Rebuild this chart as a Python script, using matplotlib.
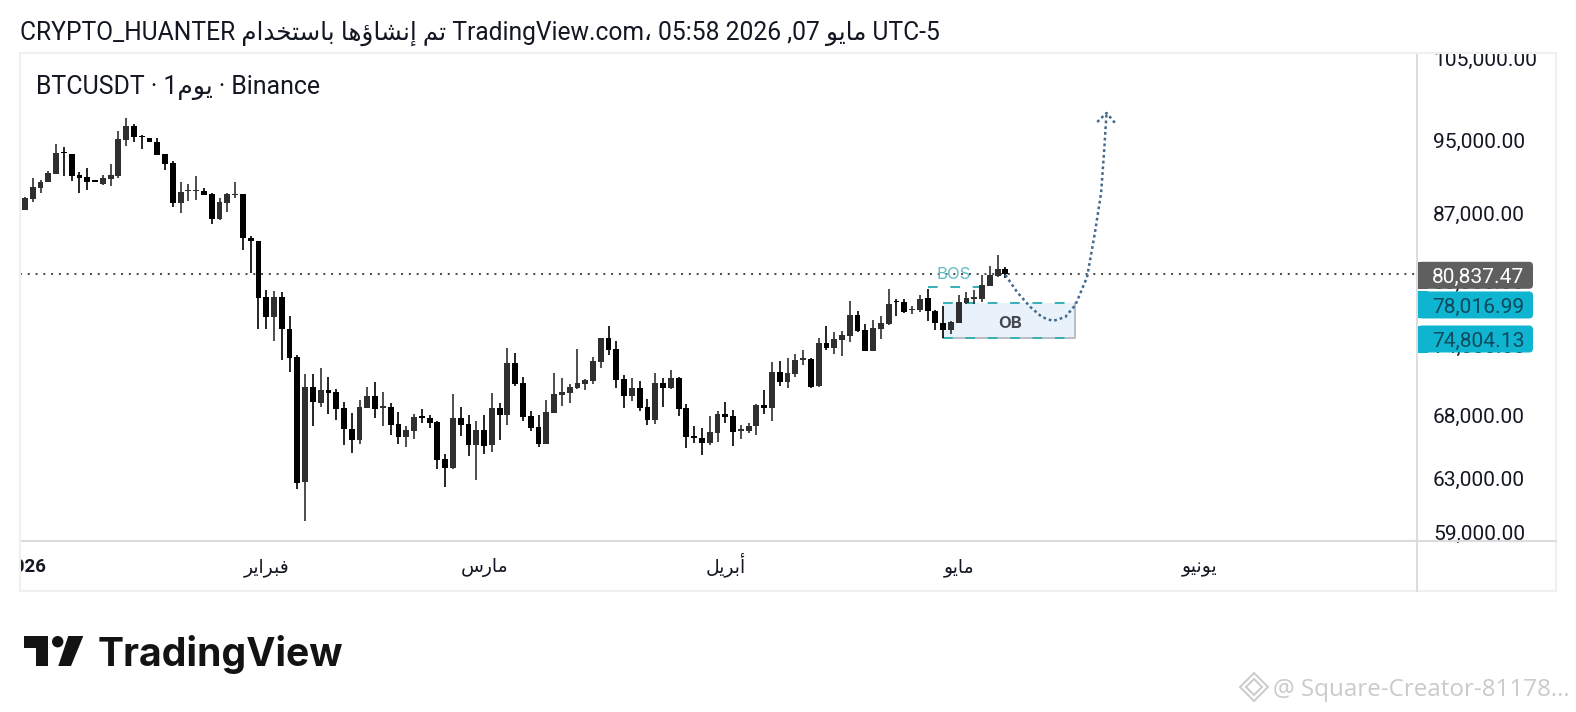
import matplotlib
matplotlib.use("Agg")
import matplotlib.pyplot as plt
from matplotlib.patches import Rectangle, FancyBboxPatch, Polygon, Circle
from matplotlib.lines import Line2D
from matplotlib.ticker import NullLocator, NullFormatter
from matplotlib.transforms import Affine2D, Bbox

# ---------- data (daily candles, day 0 = 1 Jan 2026) ----------
opens = [87420,88600,89760,90490,91340,93820,93590,91200,90970,90640,
 90200,90820,91120,95200,96840,95660,95400,95000,93550,92530,
 88200,89430,89430,89430,89110,86440,88200,89030,89110,84500,
 84150,78610,76770,78610,75600,73120,62780,70470,69140,70220,
 70050,68700,66940,66070,68670,69710,68720,68780,67340,66310,
 66820,68030,67860,67530,64560,63860,67860,67370,65670,66880,
 65670,68700,68110,72560,70820,68030,67120,65750,68280,69820,
 69960,70390,70760,70990,72680,74800,73810,71160,69710,70390,
 68780,67720,70820,70360,71280,68700,66420,66230,65810,66640,
 68200,68030,66820,66800,67180,68950,68700,71750,70900,71600,
 72830,72950,70560,74350,73900,74620,74990,76930,75540,73630,
 75630,76090,78280,78160,77400,77400,78510,77300,76210,75540,
 76210,78030,78440,78410,79730,80670,81330]
highs = [88790,90860,90670,91670,94700,94360,93600,91530,91970,90640,
 91200,92420,96280,97740,97040,95820,95470,95400,93560,92760,
 90420,90200,91120,89760,89220,88680,89280,90420,89180,84670,
 84160,79280,79180,79120,76830,73250,71600,71600,72100,71340,
 70330,69170,68300,69370,70450,70900,70020,69090,68360,67180,
 68200,68610,68110,67620,64950,69880,68780,68110,67620,68110,
 69960,69110,73900,73450,71340,68420,68110,69370,71690,71250,
 70710,73810,71160,73100,74810,75910,74530,71510,71250,70960,
 69430,71660,71220,71950,71310,69010,67200,67040,68030,68420,
 69200,68530,67290,67420,69030,70220,72650,72740,73010,73360,
 73720,73010,74780,75910,75350,75450,78250,77300,76090,76460,
 76840,79400,78440,78440,77780,78800,79400,77400,77780,76370,
 78830,79120,79310,80770,81660,82760,81530]
lows = [87420,88310,89280,90480,91340,91120,90560,89280,89580,90480,
 90120,90010,90930,94540,94970,94160,95000,93510,91780,87770,
 87070,88380,88490,89030,85940,86360,87210,88710,83270,80970,
 75630,75630,74560,72830,71750,62270,59890,67200,68800,68200,
 67700,65670,65060,65750,68670,67860,67200,66470,65750,65540,
 66170,67480,67070,63780,62420,63780,66390,64800,62930,64950,
 65110,66070,67290,70560,67620,66800,65510,65750,68280,68890,
 69110,70300,70220,70730,72150,73280,70390,68700,69280,68440,
 67290,67370,68780,70300,68030,65430,65830,64880,65670,65910,
 67450,65590,66150,66640,66470,68200,67620,70560,70390,71340,
 72390,70390,70500,73720,73360,73190,74440,75350,73630,73630,
 74710,76000,76830,77150,77020,77240,76370,75540,74810,75170,
 76210,77970,77970,78160,79700,80600,80480]
closes = [88680,89870,90490,91420,93670,93670,91120,90930,90490,90490,
 90860,91200,95280,96840,95510,95510,95000,93510,92490,88200,
 89330,89610,89610,89030,86500,88240,89110,89180,84470,84180,
 78540,76770,78610,75600,73030,62720,70470,69170,70220,69990,
 68640,66940,66070,68780,69710,68640,68840,67290,66310,66880,
 67950,67890,67450,64480,63860,67860,67290,65670,66880,65610,
 68700,68110,72560,70730,67950,67040,65750,68360,69880,70050,
 70470,70790,71080,72740,74800,73720,71100,69710,70390,68700,
 67700,70820,70390,71250,68610,66290,66230,65830,66720,68200,
 67950,66720,66960,67200,68950,68700,71770,70900,71690,72830,
 73010,70500,74350,73900,74710,75080,76930,75450,73630,75720,
 76180,78010,78160,77210,77520,78440,77280,76210,75540,76250,
 78130,78510,78640,79790,80770,81330,80837.47]

price_ticks = [105000, 95000, 87000, 80000, 74000, 68000, 63000, 59000]
month_days = [0, 31, 59, 90, 120, 151]
month_names = ['2026', 'فبراير', 'مارس', 'أبريل', 'مايو', 'يونيو']

ob_top, ob_bottom = 78016.99, 74804.13
ob_days = [118, 135]
bos_price = 79630
bos_days = [116, 122.7]
path_days = [126, 127.5, 129.2, 130.7, 132.1, 133.7, 135, 136.5, 137.5, 138.3, 138.7, 139]
path_prices = [80770, 79115, 77683, 76743, 76370, 76743, 77873, 80573, 85005, 89250, 94045, 98380]
head_days = [137.8, 139, 140.2]
head_prices = [97307, 98380, 97071]

# ---------- Arabic shaping (matplotlib does not shape or reorder) ----------
FORMS = {'ا':(0xFE8D,0xFE8E),'أ':(0xFE83,0xFE84),'إ':(0xFE87,0xFE88),'ؤ':(0xFE85,0xFE86),
 'د':(0xFEA9,0xFEAA),'ر':(0xFEAD,0xFEAE),'و':(0xFEED,0xFEEE),
 'ب':(0xFE8F,0xFE90,0xFE91,0xFE92),'ت':(0xFE95,0xFE96,0xFE97,0xFE98),
 'خ':(0xFEA5,0xFEA6,0xFEA7,0xFEA8),'س':(0xFEB1,0xFEB2,0xFEB3,0xFEB4),
 'ش':(0xFEB5,0xFEB6,0xFEB7,0xFEB8),'ف':(0xFED1,0xFED2,0xFED3,0xFED4),
 'ل':(0xFEDD,0xFEDE,0xFEDF,0xFEE0),'م':(0xFEE1,0xFEE2,0xFEE3,0xFEE4),
 'ن':(0xFEE5,0xFEE6,0xFEE7,0xFEE8),'ه':(0xFEE9,0xFEEA,0xFEEB,0xFEEC),
 'ي':(0xFEF1,0xFEF2,0xFEF3,0xFEF4)}

def ar(s):
    out = []
    for i, ch in enumerate(s):
        if ch not in FORMS:
            out.append(ch)
            continue
        prev = s[i-1] if i > 0 else ''
        nxt = s[i+1] if i+1 < len(s) else ''
        jp = prev in FORMS and len(FORMS[prev]) == 4
        jn = nxt in FORMS and len(FORMS[ch]) == 4
        idx = 3 if (jp and jn) else 1 if jp else 2 if jn else 0
        out.append(chr(FORMS[ch][idx]))
    return ''.join(reversed(out))

title_text = ("CRYPTO_HUANTER " + ar('تم إنشاؤها باستخدام') + " TradingView.com" + ar('،')
              + " 05:58 2026 ,07 " + ar('مايو') + " UTC-5")
legend_text = "BTCUSDT · 1" + ar('يوم') + " · Binance"

# ---------- layout ----------
W, H = 1576, 712
FONT = ['Roboto', 'DejaVu Sans']
plt.rcParams['font.family'] = FONT
fig = plt.figure(figsize=(W/100, H/100), dpi=100, facecolor='white')
px = Affine2D().scale(1/W, -1/H).translate(0, 1) + fig.transFigure

AL, AR_, AT, AB = 20, 1417, 53, 541
ax = fig.add_axes([AL/W, 1-AB/H, (AR_-AL)/W, (AB-AT)/H])
ax.set_yscale('log')
ax.set_xlim(-0.643, 178.9)
ax.set_ylim(58425, 105833)
ax.set_facecolor('white')
for s in ('top', 'left'):
    ax.spines[s].set_visible(False)
for s in ('right', 'bottom'):
    ax.spines[s].set_color('#dcdcdc')
    ax.spines[s].set_linewidth(1.5)

# ---------- OB zone ----------
ax.add_patch(Rectangle((ob_days[0], ob_bottom), ob_days[1]-ob_days[0], ob_top-ob_bottom,
                       fc='#e9f1fb', ec='none', zorder=1))
ax.plot([ob_days[0], ob_days[1], ob_days[1]], [ob_bottom, ob_bottom, ob_top],
        color='#b9bdc6', lw=1.4, zorder=1.5)
teal = '#35b0b5'
for v in (ob_top, ob_bottom):
    ax.plot(ob_days, [v, v], color=teal, lw=1.4, ls=(0, (5, 6.5)), zorder=1.6)
ax.plot(bos_days, [bos_price, bos_price], color=teal, lw=1.4, ls=(0, (5, 6.5)), zorder=1.6)

# ---------- last price line ----------
ax.axhline(closes[-1], color='#444444', lw=1.4, ls=(0, (1, 3)), zorder=1.2)

# ---------- candles ----------
days = list(range(len(closes)))
UP, DOWN = '#2f2f2f', '#000000'
colors = [UP if c >= o else DOWN for o, c in zip(opens, closes)]
ax.vlines(days, lows, highs, colors=colors, lw=1.2, zorder=3)
tops = [max(o, c) for o, c in zip(opens, closes)]
bots = [min(o, c) for o, c in zip(opens, closes)]
ax.bar(days, [t-b for t, b in zip(tops, bots)], bottom=bots, width=0.75,
       color=colors, linewidth=0, zorder=3.1)

# ---------- projection ----------
curve = '#44698c'
ax.plot(path_days, path_prices, color=curve, lw=1.8, ls=(0, (1.1, 1.2)), zorder=4)
ax.plot(head_days, head_prices, color=curve, lw=1.8, ls=(0, (1.1, 1.2)), zorder=4)

ax.text(sum(ob_days)/2 + 0.05, 76180, 'OB', color='#44474d', fontsize=12, fontweight='bold',
        ha='center', va='center', zorder=5, family=['Inter', 'DejaVu Sans'])
ax.text(119.4, 80800, 'BOS', color='#62bcc4', fontsize=12, ha='center', va='center',
        zorder=5, family=['Inter', 'DejaVu Sans'])

# ---------- axes ----------
ax.yaxis.tick_right()
ax.yaxis.set_minor_locator(NullLocator())
ax.yaxis.set_minor_formatter(NullFormatter())
ax.set_yticks(price_ticks)
ax.set_yticklabels([f"{v:,.2f}" for v in price_ticks], color='#131722', fontsize=15.1)
ax.tick_params(axis='y', length=0, pad=11.5)
ax.set_xticks(month_days)
ax.set_xticklabels([month_names[0]] + [ar(m) for m in month_names[1:]], color='#131722', fontsize=13.5)
ax.tick_params(axis='x', length=0, pad=22.5)
ax.get_xticklabels()[0].set_fontweight('bold')
clip = Bbox([[AL, 0], [W, H-AT]])
for t in ax.get_xticklabels():
    t.set_verticalalignment('baseline')
    t.set_clip_box(clip)
    t.set_clip_on(True)
for t in ax.get_yticklabels():
    t.set_transform(t.get_transform() + Affine2D().translate(0, 1))
    t.set_clip_box(clip)
    t.set_clip_on(True)

# ---------- frame ----------
fig.add_artist(Rectangle((20, 53), 1536, 538, fill=False, ec='#f0f0f0', lw=1.5, transform=px))
fig.add_artist(Line2D([1417, 1417], [541, 591], color='#dcdcdc', lw=1.5, transform=px))
fig.add_artist(Line2D([1417, 1556], [541, 541], color='#dcdcdc', lw=1.5, transform=px))

# ---------- price badges ----------
def badge(value, fc, tc, shift):
    y = H - ax.transData.transform((0, value))[1] + shift
    h = 27
    fig.add_artist(FancyBboxPatch((1418, y-h/2), 115, h, boxstyle='round,pad=0,rounding_size=4',
                                  fc=fc, ec='none', transform=px, zorder=5))
    fig.add_artist(Rectangle((1418, y-h/2), 10, h, fc=fc, ec='none', transform=px, zorder=5))
    fig.text(1478.5, y, f"{value:,.2f}", color=tc, fontsize=15.1, ha='center', va='center_baseline',
             transform=px, zorder=6)

badge(closes[-1], '#5f5f5f', 'white', 1)
badge(ob_top, '#0fb4d0', '#0f4a5e', 1.5)
badge(ob_bottom, '#0fb4d0', '#0f4a5e', 1)

# ---------- header ----------
fig.text(20, 30, title_text, color='#131722', fontsize=17.7, ha='left', va='center_baseline', transform=px)
fig.text(36.5, 84, legend_text, color='#131722', fontsize=17.9, ha='left', va='center_baseline', transform=px)

# ---------- TradingView logo ----------
logo = '#131313'
fig.add_artist(Polygon([(24, 636), (48.3, 636), (48.3, 666), (36, 666), (36, 648), (24, 648)],
                       fc=logo, ec='none', transform=px))
fig.add_artist(Polygon([(68.3, 636), (83.3, 636), (71, 666), (58.3, 666)], fc=logo, ec='none', transform=px))
fig.add_artist(Circle((57.7, 641.7), 5.7, fc=logo, ec='none', transform=px))
fig.text(97.5, 651, 'TradingView', color=logo, fontsize=28.2, fontweight='bold', ha='left',
         va='center_baseline', transform=px, family=['Inter', 'DejaVu Sans'])

# ---------- watermark ----------
wm = '#cacaca'
cx, cy = 1254, 687
for r in (14, 8):
    fig.add_artist(Polygon([(cx-r, cy), (cx, cy-r), (cx+r, cy), (cx, cy+r)], fill=False, ec=wm, lw=1.4, transform=px))
fig.text(1273, 687, '@ Square-Creator-81178...', color=wm, fontsize=17.4, ha='left', va='center_baseline',
         transform=px, family=['Open Sans', 'DejaVu Sans'])

fig.savefig('out.png', dpi=100, facecolor='white')
